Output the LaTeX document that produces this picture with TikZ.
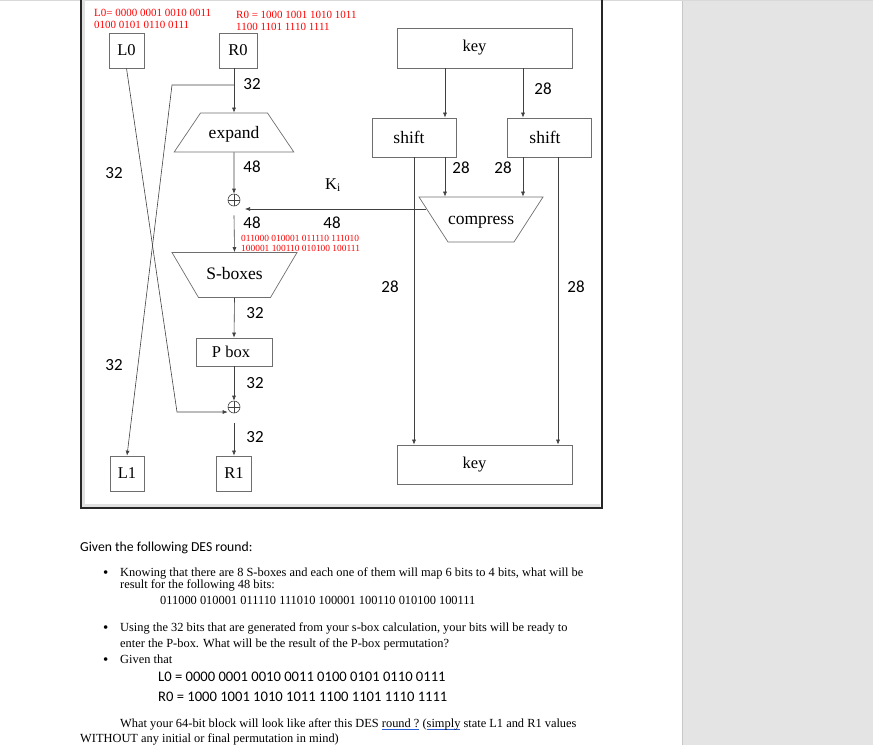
\documentclass[tikz,border=0pt]{standalone}
\usepackage{fontspec}
\setmainfont{Liberation Serif}
\newfontfamily\calibri{Carlito}
\usetikzlibrary{shapes.geometric,arrows.meta,calc}

\definecolor{linegray}{HTML}{404040}
\definecolor{boxgray}{HTML}{6E6E6E}
\definecolor{panelgray}{HTML}{E4E4E4}
\definecolor{desred}{HTML}{FF0000}
\definecolor{spellblue}{HTML}{2B60D8}
\newsavebox{\spellbox}
\newcommand{\spellmark}[1]{\sbox{\spellbox}{#1}\rlap{\textcolor{spellblue}{\rule[-2.5pt]{\wd\spellbox}{0.7pt}}}\usebox{\spellbox}}

\begin{document}
\begin{tikzpicture}[x=1pt,y=-1pt,
		desbox/.style={draw=boxgray,line width=0.7pt,inner sep=0pt,font=\fontsize{16.5}{16.5}\selectfont},
		trap/.style={trapezium,draw=boxgray,line width=0.7pt,inner sep=0pt,align=center,font=\fontsize{17.5}{17.5}\selectfont},
		xorsym/.style={circle,draw=linegray,line width=0.6pt,inner sep=0pt,minimum size=12pt,
			path picture={\draw[linegray,line width=0.6pt] (path picture bounding box.north) -- (path picture bounding box.south)
				(path picture bounding box.west) -- (path picture bounding box.east);}},
		width/.style={font=\calibri\fontsize{17}{17}\selectfont,inner sep=0pt},
		redtxt/.style={text=desred,inner sep=0pt,anchor=base west,font=\fontsize{11}{11}\selectfont},
		redbits/.style={text=desred,inner sep=0pt,anchor=base west,font=\fontsize{9.4}{9.4}\selectfont},
		body/.style={inner sep=0pt,anchor=base west,font=\fontsize{12.4}{12.4}\selectfont},
		conn/.style={draw=linegray,line width=0.6pt},
		>={Latex[length=5pt,width=4pt]}]

			\useasboundingbox (0,0) rectangle (873,745);

			\fill[panelgray] (682,0) rectangle (873,745);
			\draw[black!22] (682.5,0) -- (682.5,745);
			\draw[black!15] (0,0.5) -- (873,0.5);
			\draw[black!12,line width=3pt] (83.5,0) -- (83.5,505.5) -- (600,505.5);
			\draw[black!85,line width=1.8pt] (81,0) -- (81,508) -- (602,508) -- (602,0);

			\node[redtxt] (l0bitsa) at (94,16.5) {L0= 0000 0001 0010 0011};
			\node[redtxt] (l0bitsb) at (94,28) {0100 0101 0110 0111};
			\node[redtxt] (r0bitsa) at (236,18) {R0 = 1000 1001 1010 1011};
			\node[redtxt] (r0bitsb) at (236,30) {1100 1101 1110 1111};

			\node[desbox,minimum width=35pt,minimum height=35pt] (L0) at (126.5,50.5) {L0};
			\node[desbox,minimum width=38pt,minimum height=35pt] (R0) at (238,50.5) {R0};
			\node[trap,trapezium angle=56,text width=67pt,text height=25pt,text depth=14pt] (expand) at (234,132.5) {expand};
			\node[xorsym] (xorA) at (234,200) {};
			\node[trap,trapezium angle=120.5,text width=72pt,text height=27pt,text depth=18pt] (sbox) at (234.5,275) {S-boxes};
			\node[desbox,minimum width=76pt,minimum height=28pt] (pbox) at (234,352) {P box\kern6pt\relax};
			\node[xorsym] (xorB) at (234,407) {};
			\node[desbox,minimum width=34pt,minimum height=35pt] (L1) at (127,473.5) {L1};
			\node[desbox,minimum width=35pt,minimum height=35pt] (R1) at (234,473.5) {R1};

			\node[desbox,minimum width=175pt,minimum height=40pt] (keyT) at (484.5,48) {key\kern20pt\relax};
			\node[desbox,font=\fontsize{17.5}{17.5}\selectfont,minimum width=84pt,minimum height=39pt] (shiftL) at (414,137.5) {shift\kern10pt\relax};
			\node[desbox,font=\fontsize{17.5}{17.5}\selectfont,minimum width=84pt,minimum height=39pt] (shiftR) at (549,137.5) {shift\kern8pt\relax};
			\node[trap,trapezium angle=122.8,text width=66pt,text height=27pt,text depth=18pt] (compress) at (481,219.5) {compress};
			\node[desbox,minimum width=175pt,minimum height=39pt] (keyB) at (484.5,464.5) {key\kern20pt\relax};

			\node[width] (wr0) at (252,84) {32};
			\node[width] (wexp) at (252,167) {48};
			\node[width] (wxor) at (252,223) {48};
			\node[width] (wkey) at (332,223) {48};
			\node[font=\fontsize{16.5}{16.5}\selectfont,inner sep=0pt] (ki) at (333,185) {K$_{\mathrm{i}}$};
			\node[redbits] (sbitsa) at (241,241.5) {011000 010001 011110 111010};
			\node[redbits] (sbitsb) at (241,251.5) {100001 100110 010100 100111};
			\node[width] (wsbox) at (255,313) {32};
			\node[width] (wpbox) at (255,383) {32};
			\node[width] (wr1) at (255,437) {32};
			\node[width] (wl0) at (114,173) {32};
			\node[width] (wl1) at (114,365) {32};
			\node[width] (wkr) at (543,89) {28};
			\node[width] (wcl) at (461,168) {28};
			\node[width] (wcr) at (503,168) {28};
			\node[width] (wkbl) at (390,287) {28};
			\node[width] (wkbr) at (576,287) {28};

			\coordinate (rbend) at (172,85);
			\coordinate (lbend) at (177,412);
			\coordinate (kl) at (445,0);
			\coordinate (kr) at (523,0);
			\coordinate (kf) at (558,0);
			\coordinate (kend) at (245,0);
			\coordinate (kstart) at ($(compress.top left corner)!0.27!(compress.bottom left corner)$);

			\draw[conn,->] (R0.south -| expand.north) -- (expand.north);
			\draw[conn,->] (rbend -| expand.north) -- (rbend) -- (L1.north);
			\draw[conn,->] (L0.south) -- (lbend) -- (lbend -| xorB.west);
			\draw[conn,->] (expand.south) -- (xorA.north);
			\draw[conn,->] ([yshift=-9pt]xorA.south) -- (sbox.north);
			\draw[conn,->] (sbox.south) -- (pbox.north);
			\draw[conn,->] (pbox.south) -- (xorB.north);
			\draw[conn,->] ([yshift=-9.5pt]xorB.south) -- (R1.north);

			\draw[conn,->] (keyT.south -| kl) -- (shiftL.north -| kl);
			\draw[conn,->] (keyT.south -| kr) -- (shiftR.north -| kr);
			\draw[conn,->] (shiftL.south -| kl) -- (compress.north -| kl);
			\draw[conn,->] (shiftR.south -| kr) -- (compress.north -| kr);
			\draw[conn,->] (shiftL.south) -- (keyB.north -| shiftL.south);
			\draw[conn,->] (shiftR.south -| kf) -- (keyB.north -| kf);
			\draw[conn,->] (kstart) -- (kstart -| kend);

			\node[body,font=\calibri\fontsize{13.7}{13.7}\selectfont] (given) at (80,551) {Given the following DES round:};
			\node[body,font=\fontsize{15}{15}\selectfont] (dota) at (103,577) {\textbullet};
			\node[body] (qa) at (120,576) {Knowing that there are 8 S-boxes and each one of them will map 6 bits to 4 bits, what will be};
			\node[body] (qb) at (120,588) {result for the following 48 bits:};
			\node[body] (qc) at (160,604) {011000 010001 011110 111010 100001 100110 010100 100111};
			\node[body,font=\fontsize{15}{15}\selectfont] (dotb) at (103,632) {\textbullet};
			\node[body] (qd) at (120,631) {Using the 32 bits that are generated from your s-box calculation, your bits will be ready to};
			\node[body] (qe) at (120,647) {enter the P-box. What will be the result of the P-box permutation?};
			\node[body,font=\fontsize{15}{15}\selectfont] (dotc) at (103,664) {\textbullet};
			\node[body] (qf) at (120,663) {Given that};
			\node[body,font=\calibri\fontsize{14.6}{14.6}\selectfont] (ql0) at (158,681) {L0 = 0000 0001 0010 0011 0100 0101 0110 0111};
			\node[body,font=\calibri\fontsize{14.6}{14.6}\selectfont] (qr0) at (158,701) {R0 = 1000 1001 1010 1011 1100 1101 1110 1111};
			\node[body] (qg) at (120,727) {What your 64-bit block will look like after this DES \spellmark{round ?} (\spellmark{simply} state L1 and R1 values};
			\node[body] (qh) at (80,742) {WITHOUT any initial or final permutation in mind)};

		\end{tikzpicture}
\end{document}
